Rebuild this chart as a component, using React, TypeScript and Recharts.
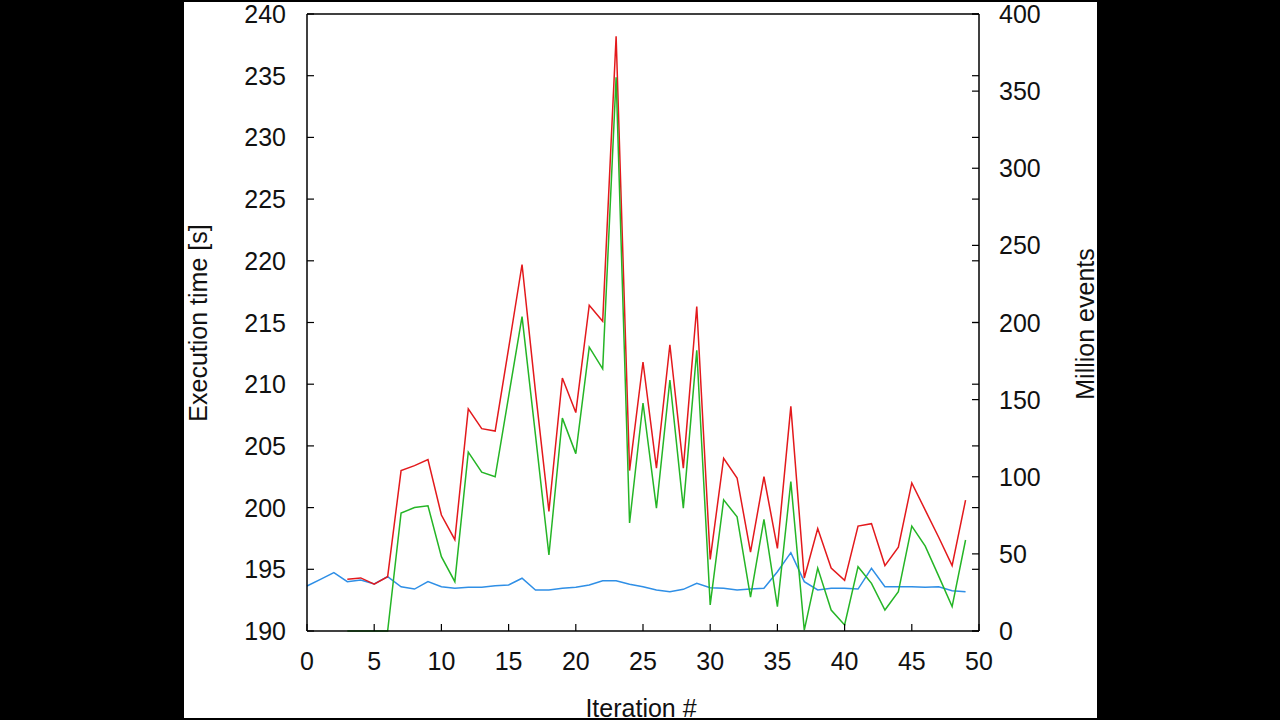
// Execution time vs. million events per iteration (gnuplot-style)

import React from 'react';
import { LineChart, Line, XAxis, YAxis, ReferenceLine } from 'recharts';

const iterations = Array.from({ length: 50 }, (_, i) => i);

// execution time [s], left axis; first iterations missing
const execTime = [
  null, null, null, 194.2, 194.3, 193.8, 194.4, 203.0, 203.4, 203.9,
  199.4, 197.4, 208.0, 206.4, 206.2, 212.9, 219.7, 209.4, 199.7, 210.5,
  207.7, 216.4, 215.1, 238.2, 203.0, 211.8, 203.2, 213.2, 203.2, 216.3,
  195.8, 204.0, 202.4, 196.4, 202.5, 196.7, 208.2, 194.3, 198.3, 195.1,
  194.1, 198.5, 198.7, 195.3, 196.8, 202.0, 199.8, 197.6, 195.3, 200.6,
];

// million events, right axis
const eventsA = [
  null, null, null, 0, 0, 0, 0, 76.5, 80, 81.2,
  48.2, 32, 116, 103, 100, 152, 203.8, 127, 49.3, 138,
  115, 184, 170, 359, 70, 147.8, 79.7, 162.7, 79.7, 182,
  16.9, 85, 74, 22, 72.4, 15.8, 96.8, 0.6, 40.8, 13.6,
  3.9, 41.7, 30.9, 13.6, 25.5, 68, 55, 35.6, 15.8, 59,
];

const eventsB = [
  29.2, 33.5, 37.8, 32, 33, 30.5, 35.2, 28.7, 27.2, 32,
  28.7, 27.7, 28.3, 28.3, 29.4, 29.8, 34.2, 26.6, 26.6, 27.7,
  28.3, 29.8, 32.6, 32.6, 30.3, 28.7, 26.6, 25.5, 27, 30.9,
  28.1, 27.7, 26.6, 27.2, 27.7, 38.4, 50.8, 32, 26.6, 27.7,
  27.7, 27.2, 40.6, 28.7, 28.7, 28.7, 28.3, 28.7, 26.1, 25.5,
];

const xTicks = [0, 5, 10, 15, 20, 25, 30, 35, 40, 45, 50];
const leftTicks = [190, 195, 200, 205, 210, 215, 220, 225, 230, 235, 240];
const rightTicks = [0, 50, 100, 150, 200, 250, 300, 350, 400];

const chartData = iterations.map((it, i) => ({
  it,
  time: execTime[i],
  evA: eventsA[i],
  evB: eventsB[i],
}));

const FONT = '"Liberation Sans", Arial, sans-serif';
const FS = 25;
const TICK_LEN = 7;
const PLOT_W = 672;

const LeftTick = ({ x, y, payload }: any) => (
  <g>
    <line x1={x} y1={y} x2={x + TICK_LEN} y2={y} stroke="#000" strokeWidth={1.2} />
    {/* gnuplot mirrors y1 ticks on the right border */}
    <line x1={x + PLOT_W} y1={y} x2={x + PLOT_W - TICK_LEN} y2={y} stroke="#000" strokeWidth={1.2} />
    <text x={x - 21} y={y} dy={9} textAnchor="end" fontSize={FS} fontFamily={FONT} fill="#111">
      {payload.value}
    </text>
  </g>
);

const RightTick = ({ x, y, payload }: any) => (
  <g>
    <line x1={x} y1={y} x2={x - TICK_LEN} y2={y} stroke="#000" strokeWidth={1.2} />
    <text x={x + 20} y={y} dy={9} textAnchor="start" fontSize={FS} fontFamily={FONT} fill="#111">
      {payload.value}
    </text>
  </g>
);

const BottomTick = ({ x, y, payload }: any) => (
  <g>
    <line x1={x} y1={y} x2={x} y2={y - TICK_LEN} stroke="#000" strokeWidth={1.2} />
    <text x={x} y={y + 39} textAnchor="middle" fontSize={FS} fontFamily={FONT} fill="#111">
      {payload.value}
    </text>
  </g>
);

const labelStyle: React.CSSProperties = {
  position: 'absolute',
  fontFamily: FONT,
  fontSize: FS,
  color: '#111',
  whiteSpace: 'nowrap',
  lineHeight: 1,
};

export default function App() {
  return (
    <div style={{ position: 'fixed', left: 0, top: 0, width: 1280, height: 720, background: '#000', overflow: 'hidden' }}>
      <div style={{ position: 'absolute', left: 184, top: 2, width: 913, height: 716, background: '#fff' }} />
      <div style={{ position: 'absolute', left: 184, top: 0 }}>
        <LineChart
          width={913}
          height={720}
          data={chartData}
          margin={{ top: 14, right: 0, bottom: 0, left: 0 }}
        >
          <XAxis
            dataKey="it"
            type="number"
            domain={[0, 50]}
            ticks={xTicks}
            height={89}
            tickSize={0}
            tickMargin={0}
            tickLine={false}
            axisLine={{ stroke: '#000', strokeWidth: 1.5 }}
            tick={<BottomTick />}
            interval={0}
          />
          <YAxis
            yAxisId="left"
            orientation="left"
            type="number"
            domain={[190, 240]}
            ticks={leftTicks}
            width={123}
            tickSize={0}
            tickMargin={0}
            tickLine={false}
            axisLine={{ stroke: '#000', strokeWidth: 1.5 }}
            tick={<LeftTick />}
            interval={0}
          />
          <YAxis
            yAxisId="right"
            orientation="right"
            type="number"
            domain={[0, 400]}
            ticks={rightTicks}
            width={118}
            tickSize={0}
            tickMargin={0}
            tickLine={false}
            axisLine={{ stroke: '#000', strokeWidth: 1.5 }}
            tick={<RightTick />}
            interval={0}
          />
          <ReferenceLine yAxisId="left" y={240} stroke="#000" strokeWidth={1.5} />
          <Line
            yAxisId="right"
            dataKey="evB"
            stroke="#2f8fe6"
            strokeWidth={1.5}
            dot={false}
            isAnimationActive={false}
          />
          <Line
            yAxisId="left"
            dataKey="time"
            stroke="#e3191c"
            strokeWidth={1.5}
            dot={false}
            isAnimationActive={false}
          />
          <Line
            yAxisId="right"
            dataKey="evA"
            stroke="#25b526"
            strokeWidth={1.5}
            dot={false}
            isAnimationActive={false}
          />
        </LineChart>
      </div>
      <div style={{ ...labelStyle, left: 198, top: 323, transform: 'translate(-50%, -50%) rotate(-90deg)' }}>
        Execution time [s]
      </div>
      <div style={{ ...labelStyle, left: 1085, top: 324, transform: 'translate(-50%, -50%) rotate(-90deg)' }}>
        Million events
      </div>
      <div style={{ ...labelStyle, left: 641, top: 708, transform: 'translate(-50%, -50%)' }}>
        Iteration #
      </div>
    </div>
  );
}
